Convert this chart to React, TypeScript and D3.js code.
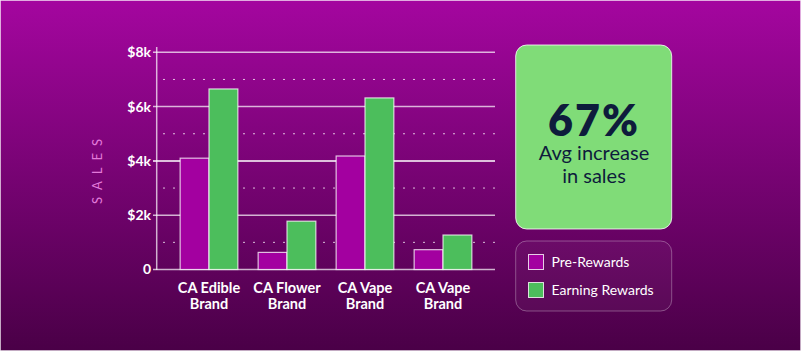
import * as d3 from 'd3';

const categories = [
  ['CA Edible', 'Brand'],
  ['CA Flower', 'Brand'],
  ['CA Vape', 'Brand'],
  ['CA Vape', 'Brand'],
];
const preRewards = [4100, 630, 4180, 730];
const earningRewards = [6650, 1780, 6320, 1270];
const majorTicks = [0, 2000, 4000, 6000, 8000];
const minorTicks = [1000, 3000, 5000, 7000];
const seriesNames = ['Pre-Rewards', 'Earning Rewards'];
const colors = ['#a300a0', '#4cbe5c'];

const W = 801;
const H = 351;
const font = 'Lato, "Open Sans", sans-serif';

export default function App() {
  const x = d3
    .scaleBand<number>()
    .domain(d3.range(categories.length))
    .range([170, 482])
    .paddingInner(0.26)
    .paddingOuter(0.13);
  const x1 = d3.scaleBand<number>().domain([0, 1]).range([0, x.bandwidth()]);
  const y = d3.scaleLinear().domain([0, 8000]).range([269.5, 52.3]);
  const fmt = (v: number) => (v === 0 ? '0' : `$${v / 1000}k`);

  return (
    <svg
      width={W}
      height={H}
      style={{ position: 'absolute', left: 0, top: 0, display: 'block' }}
    >
      <defs>
        <linearGradient id="bg" x1="0" y1="0" x2="0" y2="1">
          <stop offset="0%" stopColor="#a4069f" />
          <stop offset="100%" stopColor="#4a0047" />
        </linearGradient>
      </defs>
      <rect x={0.5} y={0.5} width={W - 1} height={H - 1} fill="url(#bg)" stroke="rgba(255,255,255,0.35)" />

      {/* minor dotted grid */}
      {minorTicks.map((t) => (
        <line
          key={'m' + t}
          x1={163}
          x2={495}
          y1={y(t)}
          y2={y(t)}
          stroke="rgba(255,255,255,0.75)"
          strokeWidth={1}
          strokeDasharray="2,8"
        />
      ))}
      {/* major grid */}
      {majorTicks.map((t) => (
        <g key={'g' + t}>
          <line
            x1={153}
            x2={495}
            y1={y(t)}
            y2={y(t)}
            stroke={t === 4000 ? '#ffffff' : 'rgba(255,255,255,0.7)'}
            strokeWidth={1.5}
          />
          <text
            x={151}
            y={y(t)}
            dy="0.35em"
            textAnchor="end"
            fill="#fff"
            fontFamily={font}
            fontWeight={700}
            fontSize={14}
          >
            {fmt(t)}
          </text>
        </g>
      ))}
      <line x1={156.7} x2={156.7} y1={47} y2={270} stroke="rgba(255,255,255,0.7)" strokeWidth={1.5} />

      <text
        transform={`translate(102,168) rotate(-90)`}
        textAnchor="middle"
        fill="#e27ada"
        fontFamily={font}
        fontSize={13}
        letterSpacing={7}
      >
        SALES
      </text>

      {/* bars */}
      {categories.map((c, i) => (
        <g key={'b' + i} transform={`translate(${x(i)},0)`}>
          {[preRewards[i], earningRewards[i]].map((v, s) => (
            <rect
              key={s}
              x={x1(s)}
              y={y(v)}
              width={x1.bandwidth()}
              height={y(0) - y(v)}
              fill={colors[s]}
              stroke="rgba(255,255,255,0.75)"
              strokeWidth={1.2}
            />
          ))}
          <text
            x={x.bandwidth() / 2}
            textAnchor="middle"
            fill="#fff"
            fontFamily={font}
            fontWeight={700}
            fontSize={14.5}
          >
            <tspan x={x.bandwidth() / 2} y={293}>{c[0]}</tspan>
            <tspan x={x.bandwidth() / 2} y={309}>{c[1]}</tspan>
          </text>
        </g>
      ))}

      {/* highlight box */}
      <rect x={515.7} y={45} width={156} height={184} rx={11} fill="#80dc78" stroke="rgba(255,255,255,0.8)" />
      <text x={594} y={136} textAnchor="middle" fill="#0e1c3c" fontFamily={font} fontWeight={800} fontSize={43} letterSpacing={2}>
        67%
      </text>
      <text x={594} y={160} textAnchor="middle" fill="#0e1c3c" fontFamily={font} fontSize={20}>
        Avg increase
      </text>
      <text x={594} y={183} textAnchor="middle" fill="#0e1c3c" fontFamily={font} fontSize={20}>
        in sales
      </text>

      {/* legend */}
      <rect x={515.7} y={241} width={156} height={70} rx={11} fill="rgba(255,255,255,0.04)" stroke="rgba(255,255,255,0.3)" />
      {seriesNames.map((n, i) => (
        <g key={n} transform={`translate(528.5,${254.5 + i * 28})`}>
          <rect width={15} height={15} fill={colors[i]} stroke="rgba(255,255,255,0.8)" />
          <text x={23} y={12} fill="#fff" fontFamily={font} fontSize={14}>
            {n}
          </text>
        </g>
      ))}
    </svg>
  );
}
